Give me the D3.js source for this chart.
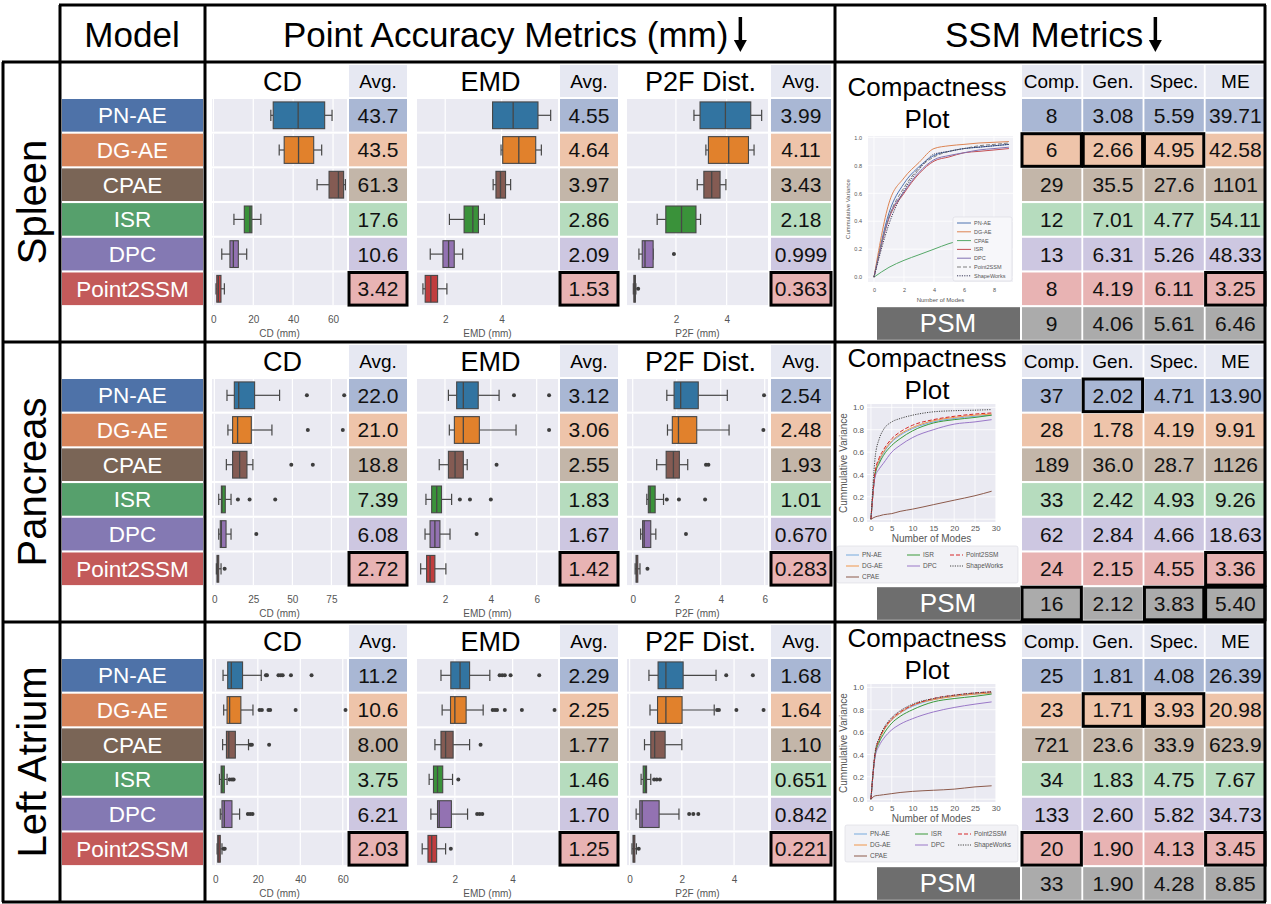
<!DOCTYPE html>
<html>
<head>
<meta charset="utf-8">
<title>Point2SSM results</title>
<script src="https://cdn.jsdelivr.net/npm/d3@7/dist/d3.min.js"></script>
<style>
  body { margin: 0; background: #fff; }
  text { font-family: 'Liberation Sans', Arial, sans-serif; }
</style>
</head>
<body>
<div id="chart"></div>
<script>
'use strict';

var models = ['PN-AE', 'DG-AE', 'CPAE', 'ISR', 'DPC', 'Point2SSM'];
var organs = ['Spleen', 'Pancreas', 'Left Atrium'];
var metricTitles = ['CD', 'EMD', 'P2F Dist.'];
var axisLabels = ['CD (mm)', 'EMD (mm)', 'P2F (mm)'];
var ssmColumns = ['Comp.', 'Gen.', 'Spec.', 'ME'];
var compactMethods = ['PN-AE', 'DG-AE', 'CPAE', 'ISR', 'DPC', 'Point2SSM', 'ShapeWorks'];

// box stats per model: [low whisker, q1, median, q3, high whisker, outliers]
var spleenCD = [
    [28.8, 30, 42.5, 55.8, 59.5, []],
    [33, 35.5, 42.7, 50.3, 54.3, []],
    [52, 58, 62.7, 65.3, 66.2, []],
    [10.3, 15.5, 18.3, 19.3, 23.8, []],
    [4.2, 8.3, 10, 12.5, 16.7, []],
    [1.3, 1.7, 2.5, 3.8, 5.5, []]
];
var spleenEMD = [
    [3.68, 3.68, 4.41, 5.29, 5.74, []],
    [3.98, 4.04, 4.61, 5.21, 5.41, []],
    [3.7, 3.8, 3.96, 4.14, 4.32, []],
    [2.15, 2.67, 2.98, 3.18, 3.39, []],
    [1.47, 1.92, 2.12, 2.32, 2.62, []],
    [1.21, 1.29, 1.49, 1.73, 2.06, []]
];
var spleenP2F = [
    [2.71, 2.95, 3.95, 4.95, 5.38, []],
    [3.18, 3.28, 4.08, 4.86, 5.08, []],
    [2.84, 3.1, 3.41, 3.74, 3.97, []],
    [1.26, 1.6, 2.22, 2.79, 2.97, []],
    [0.54, 0.67, 0.78, 1.1, 1.1, [1.92]],
    [0.32, 0.34, 0.37, 0.4, 0.42, [0.51]]
];
var pancreasCD = [
    [8.1, 12.8, 15.6, 25.8, 41.8, [59.3, 83.2]],
    [8.7, 11.7, 14.9, 23.7, 36.9, [59.9, 82.3]],
    [7.7, 11.7, 16.2, 20.9, 24.7, [49.3, 63.1]],
    [2.8, 4.5, 4.9, 7, 10.7, [15.1, 22.6, 39]],
    [2.8, 3.8, 4.5, 7.5, 10.7, [26.9]],
    [1.3, 1.7, 2.1, 2.8, 4.3, [6.6]]
];
var pancreasEMD = [
    [2.15, 2.51, 2.8, 3.45, 4.36, [5.01, 6.54]],
    [2.19, 2.41, 2.8, 3.5, 5.1, [6.54]],
    [1.75, 2.15, 2.44, 2.8, 2.97, [4.25]],
    [1.17, 1.42, 1.64, 1.85, 2.29, [2.65, 3.09, 4.0]],
    [1.13, 1.35, 1.56, 1.78, 2.22, [3.38]],
    [0.94, 1.2, 1.35, 1.56, 2.04, []]
];
var pancreasP2F = [
    [1.55, 1.88, 2.18, 2.98, 4.3, [5.97]],
    [1.58, 1.8, 2.08, 2.91, 4.38, [5.94]],
    [1.09, 1.52, 1.85, 2.12, 2.5, [3.33, 3.44]],
    [0.64, 0.71, 0.79, 1.02, 1.4, [1.55, 2.1, 3.29]],
    [0.36, 0.45, 0.52, 0.82, 1.05, [2.42]],
    [0.11, 0.15, 0.18, 0.23, 0.33, [0.67]]
];
var laCD = [
    [3.6, 5.8, 7.5, 12.8, 21.6, [23.8, 24.3, 29.7, 30.8, 31.7, 35.6, 45.3]],
    [3.9, 5.5, 6.7, 12, 17.7, [20.8, 21.9, 25, 25.8, 37.8, 61.3]],
    [3.4, 5.2, 6.3, 9.4, 15.6, [16.4, 17.2, 25.3]],
    [1.9, 2.7, 3.1, 4.2, 5.5, [6.7, 7.8, 8.6]],
    [2.3, 3.1, 4.2, 7.8, 11.4, [15.3, 16.4, 17.5]],
    [0.8, 1.1, 1.6, 2.3, 3.1, [3.9, 4.4]]
];
var laEMD = [
    [1.52, 1.86, 2.18, 2.51, 3.21, [3.55, 3.64, 3.73, 3.93, 4.92]],
    [1.56, 1.85, 2.0, 2.39, 2.98, [3.31, 3.39, 3.46, 3.73, 4.32, 5.45]],
    [1.31, 1.52, 1.68, 1.94, 2.51, [2.89]],
    [1.11, 1.26, 1.4, 1.58, 1.92, [2.12]],
    [1.17, 1.4, 1.46, 1.88, 2.44, [2.77, 2.86, 2.95]],
    [0.87, 1.07, 1.2, 1.37, 1.68, [1.86]]
];
var laP2F = [
    [0.74, 1.09, 1.39, 2.05, 3.31, [3.7, 4.72]],
    [0.78, 1.07, 1.39, 2.01, 3.24, [3.35, 3.42, 4.09, 5.13]],
    [0.57, 0.81, 0.96, 1.36, 2.0, []],
    [0.44, 0.52, 0.61, 0.65, 0.81, [0.94, 1.04, 1.16]],
    [0.25, 0.39, 0.48, 1.13, 1.89, [2.28, 2.44, 2.63]],
    [0.09, 0.13, 0.16, 0.2, 0.26, [0.35]]
];

// average column per metric (CD, EMD, P2F), one entry per model
var spleenAvg = [
    ['43.7', '43.5', '61.3', '17.6', '10.6', '3.42'],
    ['4.55', '4.64', '3.97', '2.86', '2.09', '1.53'],
    ['3.99', '4.11', '3.43', '2.18', '0.999', '0.363']
];
var pancreasAvg = [
    ['22.0', '21.0', '18.8', '7.39', '6.08', '2.72'],
    ['3.12', '3.06', '2.55', '1.83', '1.67', '1.42'],
    ['2.54', '2.48', '1.93', '1.01', '0.670', '0.283']
];
var laAvg = [
    ['11.2', '10.6', '8.00', '3.75', '6.21', '2.03'],
    ['2.29', '2.25', '1.77', '1.46', '1.70', '1.25'],
    ['1.68', '1.64', '1.10', '0.651', '0.842', '0.221']
];

var spleenTicks = [[0, 20, 40, 60], [2, 4], [2, 4]];
var pancreasTicks = [[0, 25, 50, 75], [2, 4, 6], [0, 2, 4, 6]];
var laTicks = [[0, 20, 40, 60], [2, 4], [0, 2, 4]];
var spleenDomains = [[-0.7, 67], [1.0, 6.0], [0.07, 5.63]];
var pancreasDomains = [[-1.5, 85], [0.78, 6.93], [-0.26, 6.15]];
var laDomains = [[-1.6, 62], [0.69, 5.57], [-0.1, 5.3]];

// SSM metrics: Comp., Gen., Spec., ME
var spleenSSM = [
    ['8', '3.08', '5.59', '39.71'],
    ['6', '2.66', '4.95', '42.58'],
    ['29', '35.5', '27.6', '1101'],
    ['12', '7.01', '4.77', '54.11'],
    ['13', '6.31', '5.26', '48.33'],
    ['8', '4.19', '6.11', '3.25']
];
var spleenPSM = ['9', '4.06', '5.61', '6.46'];
var pancreasSSM = [
    ['37', '2.02', '4.71', '13.90'],
    ['28', '1.78', '4.19', '9.91'],
    ['189', '36.0', '28.7', '1126'],
    ['33', '2.42', '4.93', '9.26'],
    ['62', '2.84', '4.66', '18.63'],
    ['24', '2.15', '4.55', '3.36']
];
var pancreasPSM = ['16', '2.12', '3.83', '5.40'];
var laSSM = [
    ['25', '1.81', '4.08', '26.39'],
    ['23', '1.71', '3.93', '20.98'],
    ['721', '23.6', '33.9', '623.9'],
    ['34', '1.83', '4.75', '7.67'],
    ['133', '2.60', '5.82', '34.73'],
    ['20', '1.90', '4.13', '3.45']
];
var laPSM = ['33', '1.90', '4.28', '8.85'];

// best cells [row, column], row 6 is PSM
var spleenBest = [[1, 0], [1, 1], [1, 2], [5, 3]];
var pancreasBest = [[0, 1], [5, 3], [6, 0], [6, 2], [6, 3]];
var laBest = [[1, 1], [1, 2], [5, 0], [5, 3]];

// compactness curves (cumulative variance), order of compactMethods
var spleenModes = [0, 1, 2, 3, 4, 5, 6, 7, 8, 9];
var spleenCompact = [
    [0, 0.46, 0.67, 0.79, 0.87, 0.90, 0.92, 0.93, 0.94, 0.95],
    [0, 0.53, 0.71, 0.82, 0.92, 0.94, 0.95, 0.96, 0.965, 0.97],
    [0, 0.07, 0.12, 0.16, 0.20, 0.24, 0.27, 0.31, 0.35, 0.40],
    [0, 0.42, 0.60, 0.74, 0.83, 0.86, 0.89, 0.90, 0.91, 0.92],
    [0, 0.43, 0.61, 0.75, 0.84, 0.87, 0.89, 0.91, 0.92, 0.93],
    [0, 0.43, 0.64, 0.78, 0.86, 0.90, 0.92, 0.94, 0.95, 0.96],
    [0, 0.38, 0.62, 0.77, 0.88, 0.90, 0.92, 0.93, 0.94, 0.95]
];
var pancreasModes = [0, 1, 2, 3, 5, 7, 10, 15, 20, 25, 29];
var pancreasCompact = [
    [0, 0.40, 0.52, 0.59, 0.69, 0.75, 0.81, 0.87, 0.90, 0.92, 0.93],
    [0, 0.41, 0.53, 0.60, 0.70, 0.76, 0.82, 0.88, 0.91, 0.93, 0.94],
    [0, 0.02, 0.03, 0.04, 0.05, 0.07, 0.09, 0.13, 0.17, 0.21, 0.25],
    [0, 0.40, 0.50, 0.57, 0.66, 0.72, 0.79, 0.86, 0.89, 0.91, 0.93],
    [0, 0.38, 0.45, 0.50, 0.60, 0.66, 0.73, 0.80, 0.85, 0.87, 0.89],
    [0, 0.42, 0.55, 0.62, 0.72, 0.78, 0.84, 0.89, 0.92, 0.94, 0.95],
    [0, 0.55, 0.72, 0.80, 0.87, 0.90, 0.93, 0.96, 0.97, 0.975, 0.98]
];
var laModes = [0, 1, 2, 3, 5, 7, 10, 15, 20, 25, 29];
var laCompact = [
    [0, 0.40, 0.53, 0.61, 0.71, 0.77, 0.83, 0.89, 0.92, 0.94, 0.95],
    [0, 0.40, 0.53, 0.61, 0.71, 0.77, 0.84, 0.89, 0.92, 0.94, 0.95],
    [0, 0.03, 0.035, 0.04, 0.05, 0.06, 0.07, 0.08, 0.09, 0.11, 0.12],
    [0, 0.39, 0.51, 0.58, 0.68, 0.74, 0.80, 0.87, 0.90, 0.92, 0.94],
    [0, 0.38, 0.48, 0.54, 0.62, 0.67, 0.72, 0.78, 0.82, 0.85, 0.87],
    [0, 0.41, 0.54, 0.62, 0.72, 0.78, 0.84, 0.90, 0.93, 0.95, 0.96],
    [0, 0.42, 0.55, 0.63, 0.73, 0.79, 0.85, 0.90, 0.93, 0.95, 0.96]
];

// styling
var modelColors = ['#4e72a8', '#d6845a', '#7a6556', '#56a06c', '#8479b3', '#c35a5a'];
var modelLight = ['#a9b7d4', '#eec4aa', '#c3b6a9', '#b6dcbe', '#cdc7e1', '#e8b3b3'];
var boxColors = ['#3274a1', '#e1812c', '#845b53', '#3a923a', '#9372b2', '#c03d3e'];
var spleenLineColors = ['#4c72b0', '#dd8452', '#55a868', '#c44e52', '#8172b3', '#7f7f7f', '#3a3a5a'];
var lineColors = ['#77aadd', '#f0964a', '#8c5a4b', '#3a9a3a', '#9a78c8', '#d62728', '#444444'];
var lineDash = [null, null, null, null, null, '4,2', '1.2,1.2'];
var headerFill = '#e6e8f2';
var psmFill = '#ababab';

var W = 1271, H = 904;
var sectionTops = [62, 342, 622];
var plotX = [[212, 347], [417, 558], [627, 768]];
var avgX = [[349, 407], [560, 618], [771, 831]];

var svg = d3.select('#chart').append('svg')
    .attr('width', W)
    .attr('height', H);

var sections = [
    { boxes: [spleenCD, spleenEMD, spleenP2F], avg: spleenAvg, ticks: spleenTicks, domains: spleenDomains,
      ssm: spleenSSM, psm: spleenPSM, best: spleenBest, modes: spleenModes, curves: spleenCompact },
    { boxes: [pancreasCD, pancreasEMD, pancreasP2F], avg: pancreasAvg, ticks: pancreasTicks, domains: pancreasDomains,
      ssm: pancreasSSM, psm: pancreasPSM, best: pancreasBest, modes: pancreasModes, curves: pancreasCompact },
    { boxes: [laCD, laEMD, laP2F], avg: laAvg, ticks: laTicks, domains: laDomains,
      ssm: laSSM, psm: laPSM, best: laBest, modes: laModes, curves: laCompact }
];

var drawArrow = function (g, x, y0, y1) {
    g.append('line')
        .attr('x1', x).attr('x2', x)
        .attr('y1', y0).attr('y2', y1 - 10)
        .attr('stroke', '#000')
        .attr('stroke-width', 3.5);
    g.append('path')
        .attr('d', 'M' + (x - 6.5) + ',' + (y1 - 12) + 'L' + (x + 6.5) + ',' + (y1 - 12) + 'L' + x + ',' + y1 + 'Z')
        .attr('fill', '#000');
};

// draw one horizontal seaborn-like boxplot panel
var drawBoxPanel = function (g, stats, domain, ticks, xr, band, T, label) {
    var x = d3.scaleLinear().domain(domain).range(xr);
    var bw = band.bandwidth();
    var bh = bw * 0.82, by = (bw - bh) / 2, cy = bw / 2, capH = bh * 0.42;
    var ink = '#474747';

    var rows = g.selectAll(null)
        .data(stats)
        .enter()
        .append('g')
        .attr('transform', function (d, i) { return 'translate(0,' + band(models[i]) + ')'; });

    rows.append('rect')
        .attr('x', xr[0])
        .attr('width', xr[1] - xr[0])
        .attr('height', bw)
        .attr('fill', '#eaeaf2');

    rows.selectAll(null)
        .data(ticks)
        .enter()
        .append('line')
        .attr('x1', function (d) { return x(d); })
        .attr('x2', function (d) { return x(d); })
        .attr('y1', 0)
        .attr('y2', bw)
        .attr('stroke', '#fff')
        .attr('stroke-width', 1.2);

    // whiskers and caps
    [[0, 1], [3, 4]].forEach(function (p) {
        rows.append('line')
            .attr('x1', function (d) { return x(d[p[0]]); })
            .attr('x2', function (d) { return x(d[p[1]]); })
            .attr('y1', cy).attr('y2', cy)
            .attr('stroke', ink).attr('stroke-width', 1.2);
    });
    [0, 4].forEach(function (k) {
        rows.append('line')
            .attr('x1', function (d) { return x(d[k]); })
            .attr('x2', function (d) { return x(d[k]); })
            .attr('y1', cy - capH / 2).attr('y2', cy + capH / 2)
            .attr('stroke', ink).attr('stroke-width', 1.2);
    });

    rows.append('rect')
        .attr('x', function (d) { return x(d[1]); })
        .attr('width', function (d) { return Math.max(1.5, x(d[3]) - x(d[1])); })
        .attr('y', by)
        .attr('height', bh)
        .attr('fill', function (d, i) { return boxColors[i]; })
        .attr('stroke', ink)
        .attr('stroke-width', 1.1);

    rows.append('line')
        .attr('x1', function (d) { return x(d[2]); })
        .attr('x2', function (d) { return x(d[2]); })
        .attr('y1', by).attr('y2', by + bh)
        .attr('stroke', ink).attr('stroke-width', 1.3);

    rows.selectAll(null)
        .data(function (d) { return d[5]; })
        .enter()
        .append('circle')
        .attr('cx', function (d) { return x(d); })
        .attr('cy', cy)
        .attr('r', 2)
        .attr('fill', '#3d3d3d');

    var axis = g.append('g')
        .attr('transform', 'translate(0,' + (T + 254) + ')')
        .call(d3.axisBottom(x).tickValues(ticks).tickSize(0).tickPadding(0).tickFormat(d3.format('d')));
    axis.select('.domain').remove();
    axis.selectAll('text')
        .attr('font-family', 'DejaVu Sans')
        .attr('font-size', 10)
        .attr('fill', '#555');

    g.append('text')
        .attr('x', (xr[0] + xr[1]) / 2)
        .attr('y', T + 275)
        .attr('text-anchor', 'middle')
        .attr('font-family', 'DejaVu Sans')
        .attr('font-size', 10)
        .attr('fill', '#555')
        .text(label);
};

// compactness plot
var drawCompact = function (g, cfg) {
    var x = d3.scaleLinear().domain(cfg.xDomain).range([cfg.left, cfg.right]);
    var y = d3.scaleLinear().domain(cfg.yDomain).range([cfg.bottom, cfg.top]);

    g.append('rect')
        .attr('x', cfg.left).attr('y', cfg.top)
        .attr('width', cfg.right - cfg.left)
        .attr('height', cfg.bottom - cfg.top)
        .attr('fill', cfg.bg);

    g.selectAll(null).data(cfg.xTicks).enter().append('line')
        .attr('x1', function (d) { return x(d); }).attr('x2', function (d) { return x(d); })
        .attr('y1', cfg.top).attr('y2', cfg.bottom)
        .attr('stroke', '#fff').attr('stroke-width', 0.8);
    g.selectAll(null).data(cfg.yTicks).enter().append('line')
        .attr('x1', cfg.left).attr('x2', cfg.right)
        .attr('y1', function (d) { return y(d); }).attr('y2', function (d) { return y(d); })
        .attr('stroke', '#fff').attr('stroke-width', 0.8);

    var line = d3.line()
        .x(function (d, i) { return x(cfg.modes[i]); })
        .y(function (d) { return y(d); })
        .curve(d3.curveMonotoneX);

    g.selectAll(null).data(cfg.curves).enter().append('path')
        .attr('d', line)
        .attr('fill', 'none')
        .attr('stroke', function (d, i) { return cfg.colors[i]; })
        .attr('stroke-width', cfg.lw)
        .attr('stroke-dasharray', function (d, i) { return lineDash[i]; });

    var ax = g.append('g')
        .attr('transform', 'translate(0,' + cfg.bottom + ')')
        .call(d3.axisBottom(x).tickValues(cfg.xTicks).tickSize(0).tickPadding(cfg.pad).tickFormat(d3.format('d')));
    var ay = g.append('g')
        .attr('transform', 'translate(' + cfg.left + ',0)')
        .call(d3.axisLeft(y).tickValues(cfg.yTicks).tickSize(0).tickPadding(cfg.pad).tickFormat(d3.format('.1f')));
    [ax, ay].forEach(function (a) {
        a.select('.domain').remove();
        a.selectAll('text')
            .attr('font-family', 'DejaVu Sans')
            .attr('font-size', cfg.tickFont)
            .attr('fill', '#555');
    });

    g.append('text')
        .attr('x', (cfg.left + cfg.right) / 2)
        .attr('y', cfg.xLabelY)
        .attr('text-anchor', 'middle')
        .attr('font-family', 'DejaVu Sans')
        .attr('font-size', cfg.labelFont)
        .attr('fill', '#555')
        .text('Number of Modes');
    g.append('text')
        .attr('transform', 'translate(' + cfg.yLabelX + ',' + (cfg.top + cfg.bottom) / 2 + ') rotate(-90)')
        .attr('text-anchor', 'middle')
        .attr('font-family', 'DejaVu Sans')
        .attr('font-size', cfg.labelFont)
        .attr('fill', '#555')
        .text('Cummulative Variance');

    // legend
    var lg = cfg.legend;
    g.append('rect')
        .attr('x', lg.x).attr('y', lg.y)
        .attr('width', lg.w).attr('height', lg.h)
        .attr('rx', 2)
        .attr('fill', lg.fill)
        .attr('stroke', '#d8d8e0')
        .attr('stroke-width', 0.6);
    var items = g.selectAll(null).data(compactMethods).enter().append('g')
        .attr('transform', function (d, i) { return 'translate(' + lg.pos[i][0] + ',' + lg.pos[i][1] + ')'; });
    items.append('line')
        .attr('x1', 0).attr('x2', lg.len)
        .attr('stroke', function (d, i) { return cfg.colors[i]; })
        .attr('stroke-width', cfg.lw)
        .attr('stroke-dasharray', function (d, i) { return lineDash[i]; });
    items.append('text')
        .attr('x', lg.len + 3)
        .attr('dy', '0.35em')
        .attr('font-family', 'DejaVu Sans')
        .attr('font-size', lg.font)
        .attr('fill', '#555')
        .text(function (d) { return d; });
};

// ---------- header row ----------
var head = svg.append('g');
head.append('text')
    .attr('x', 132).attr('y', 47)
    .attr('text-anchor', 'middle')
    .attr('font-size', 35)
    .text('Model');
var pam = head.append('text')
    .attr('x', 283).attr('y', 47)
    .attr('font-size', 35)
    .text('Point Accuracy Metrics (mm)');
drawArrow(head, 283 + pam.node().getComputedTextLength() + 12, 17, 52);
var ssmT = head.append('text')
    .attr('x', 945).attr('y', 47)
    .attr('font-size', 35)
    .text('SSM Metrics');
drawArrow(head, 945 + ssmT.node().getComputedTextLength() + 12, 17, 52);

// ---------- organ sections ----------
sections.forEach(function (sec, s) {
    var T = sectionTops[s];
    var g = svg.append('g');
    var band = d3.scaleBand()
        .domain(models.concat(['PSM']))
        .range([T + 37, T + 37 + 7 * 34.4])
        .paddingInner(0.06);
    var bw = band.bandwidth();

    // organ name
    g.append('text')
        .attr('transform', 'translate(46,' + (T + 140) + ') rotate(-90)')
        .attr('text-anchor', 'middle')
        .attr('font-size', 40)
        .text(organs[s]);

    // model labels
    var labels = g.selectAll(null).data(models).enter().append('g')
        .attr('transform', function (d) { return 'translate(62,' + band(d) + ')'; });
    labels.append('rect')
        .attr('width', 141)
        .attr('height', bw)
        .attr('fill', function (d, i) { return modelColors[i]; });
    labels.append('text')
        .attr('x', 70.5)
        .attr('y', bw / 2 + 8)
        .attr('text-anchor', 'middle')
        .attr('font-size', 22.5)
        .attr('fill', '#fff')
        .text(function (d) { return d; });

    // point accuracy metrics
    metricTitles.forEach(function (title, m) {
        var xr = plotX[m], ar = avgX[m];
        g.append('text')
            .attr('x', (xr[0] + xr[1]) / 2 + 3)
            .attr('y', T + 29)
            .attr('text-anchor', 'middle')
            .attr('font-size', 27)
            .text(title);
        g.append('rect')
            .attr('x', ar[0]).attr('y', T + 3)
            .attr('width', ar[1] - ar[0]).attr('height', 32)
            .attr('fill', headerFill);
        g.append('text')
            .attr('x', (ar[0] + ar[1]) / 2)
            .attr('y', T + 26)
            .attr('text-anchor', 'middle')
            .attr('font-size', 19)
            .text('Avg.');

        drawBoxPanel(g.append('g'), sec.boxes[m], sec.domains[m], sec.ticks[m], xr, band, T, axisLabels[m]);

        var cells = g.selectAll(null).data(sec.avg[m]).enter().append('g')
            .attr('transform', function (d, i) { return 'translate(' + ar[0] + ',' + band(models[i]) + ')'; });
        cells.append('rect')
            .attr('width', ar[1] - ar[0])
            .attr('height', bw)
            .attr('fill', function (d, i) { return modelLight[i]; })
            .attr('stroke', function (d, i) { return i === 5 ? '#000' : 'none'; })
            .attr('stroke-width', 3);
        cells.append('text')
            .attr('x', (ar[1] - ar[0]) / 2)
            .attr('y', bw / 2 + 7.5)
            .attr('text-anchor', 'middle')
            .attr('font-size', 21)
            .attr('fill', '#111')
            .text(function (d) { return d; });
    });

    var cfg;
    if (s === 0) {
        cfg = {
            left: 868, right: 1013, top: T + 74, bottom: T + 220,
            xDomain: [-0.4, 9.27], yDomain: [-0.035, 1.01],
            xTicks: [0, 2, 4, 6, 8], yTicks: [0, 0.2, 0.4, 0.6, 0.8, 1.0],
            bg: '#f1f1f6', colors: spleenLineColors, lw: 1,
            pad: 6, tickFont: 5.5, labelFont: 6, xLabelY: T + 240, yLabelX: 850,
            legend: {
                x: 953, y: T + 155, w: 59, h: 64, fill: '#f7f7fa', len: 14, font: 5.5,
                pos: compactMethods.map(function (d, i) { return [957, T + 161 + i * 8.8]; })
            }
        };
    } else {
        var ly = s === 1 ? T + 204 : T + 203;
        var lx = s === 1 ? 837 : 845;
        cfg = {
            left: 867, right: 996, top: T + 62, bottom: T + 180,
            xDomain: [-0.95, 30.05], yDomain: [-0.025, 1.03],
            xTicks: [0, 5, 10, 15, 20, 25, 30], yTicks: [0, 0.2, 0.4, 0.6, 0.8, 1.0],
            bg: '#eaeaf2', colors: lineColors, lw: 1,
            pad: 3, tickFont: 8, labelFont: 10, xLabelY: T + 200, yLabelX: 847,
            legend: {
                x: lx, y: ly, w: 1018 - lx, h: 37, fill: '#f2f2f6', len: 13, font: 6.5,
                pos: [[lx + 9, ly + 9], [lx + 9, ly + 20], [lx + 9, ly + 31],
                      [lx + 70, ly + 9], [lx + 70, ly + 20],
                      [lx + 113, ly + 9], [lx + 113, ly + 20]]
            }
        };
    }
    cfg.modes = sec.modes;
    cfg.curves = sec.curves;
    drawCompact(g.append('g'), cfg);

    // compactness title sits higher in the lower two sections
    var titleY = s === 0 ? T + 34 : T + 25;
    g.append('text')
        .attr('x', 927).attr('y', titleY)
        .attr('text-anchor', 'middle')
        .attr('font-size', 26)
        .text('Compactness');
    g.append('text')
        .attr('x', 927).attr('y', titleY + 32)
        .attr('text-anchor', 'middle')
        .attr('font-size', 26)
        .text('Plot');

    // ssm table
    var col = d3.scaleBand().domain(ssmColumns).range([1022, 1265]).paddingInner(0.03);
    var cw = col.bandwidth();
    g.selectAll(null).data(ssmColumns).enter().append('rect')
        .attr('x', function (d) { return col(d); })
        .attr('y', T + 3)
        .attr('width', cw).attr('height', 32)
        .attr('fill', headerFill);
    g.selectAll(null).data(ssmColumns).enter().append('text')
        .attr('x', function (d) { return col(d) + cw / 2; })
        .attr('y', T + 26)
        .attr('text-anchor', 'middle')
        .attr('font-size', 19)
        .text(function (d) { return d; });

    var rowKeys = models.concat(['PSM']);
    var trows = g.selectAll(null).data(sec.ssm.concat([sec.psm])).enter().append('g')
        .attr('transform', function (d, i) { return 'translate(0,' + band(rowKeys[i]) + ')'; });
    trows.each(function (row, r) {
        var tr = d3.select(this);
        tr.selectAll('rect').data(row).enter().append('rect')
            .attr('x', function (d, c) { return col(ssmColumns[c]); })
            .attr('width', cw).attr('height', bw)
            .attr('fill', r < 6 ? modelLight[r] : psmFill);
        tr.selectAll('text').data(row).enter().append('text')
            .attr('x', function (d, c) { return col(ssmColumns[c]) + cw / 2; })
            .attr('y', bw / 2 + 7.5)
            .attr('text-anchor', 'middle')
            .attr('font-size', 21)
            .attr('fill', '#111')
            .text(function (d) { return d; });
    });

    // PSM label
    g.append('rect')
        .attr('x', 877).attr('y', band('PSM'))
        .attr('width', 143).attr('height', bw)
        .attr('fill', '#6e6e6e');
    g.append('text')
        .attr('x', 948).attr('y', band('PSM') + bw / 2 + 9)
        .attr('text-anchor', 'middle')
        .attr('font-size', 26)
        .attr('fill', '#fff')
        .text('PSM');

    // best results
    g.selectAll(null).data(sec.best).enter().append('rect')
        .attr('x', function (d) { return col(ssmColumns[d[1]]); })
        .attr('y', function (d) { return band(rowKeys[d[0]]); })
        .attr('width', cw).attr('height', bw)
        .attr('fill', 'none')
        .attr('stroke', '#000')
        .attr('stroke-width', 3);
});

// ---------- frame ----------
var hLines = [[59, 1266, 5], [2, 1266, 62], [2, 1266, 342], [2, 1266, 622], [2, 1266, 902]];
var vLines = [[3, 62, 902], [60, 5, 902], [205, 5, 902], [835, 5, 902], [1265, 5, 902]];
var frame = svg.append('g').attr('stroke', '#000').attr('stroke-width', 3);
frame.selectAll(null).data(hLines).enter().append('line')
    .attr('x1', function (d) { return d[0]; }).attr('x2', function (d) { return d[1]; })
    .attr('y1', function (d) { return d[2]; }).attr('y2', function (d) { return d[2]; });
frame.selectAll(null).data(vLines).enter().append('line')
    .attr('x1', function (d) { return d[0]; }).attr('x2', function (d) { return d[0]; })
    .attr('y1', function (d) { return d[1]; }).attr('y2', function (d) { return d[2]; });
</script>
</body>
</html>
